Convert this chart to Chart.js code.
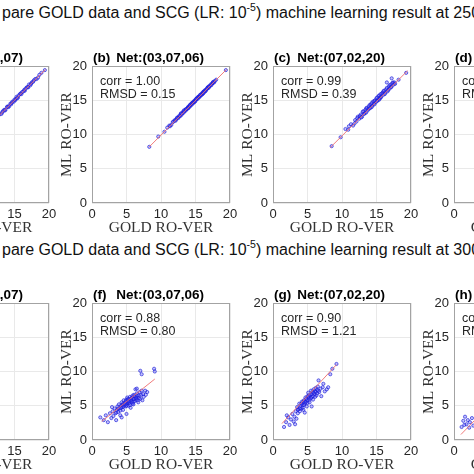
<!DOCTYPE html>
<html><head><meta charset="utf-8">
<script src="https://cdn.jsdelivr.net/npm/chart.js@4.4.1/dist/chart.umd.min.js"></script>
<style>
html,body{margin:0;padding:0;background:#fff;overflow:hidden;}
#page{position:relative;width:474px;height:474px;overflow:hidden;background:#fff;}
#page canvas{position:absolute;}
.rowTitle{position:absolute;left:2px;white-space:nowrap;font-family:"Liberation Sans",Arial,sans-serif;font-size:16px;line-height:16px;color:#111;}
.rowTitle sup{font-size:10.5px;line-height:0;vertical-align:7px;}
</style></head>
<body><div id="page"></div>
<script>
// ---------- data ----------
const tickValues = [0, 5, 10, 15, 20];
const xAxisTitle = 'GOLD RO-VER';
const yAxisTitle = 'ML RO-VER';
const rowTitleHead = 'pare GOLD data and SCG (LR: 10';
const rowTitleExp = '-5';
const rowTitleTail = ') machine learning result at ';
const rowTitleHeights = ['250', '300'];

const panelTags = ['', '(b)', '(c)', '(d)', '', '(f)', '(g)', '(h)'];
const panelNets = [',07)', 'Net:(03,07,06)', 'Net:(07,02,20)', '', ',07)', 'Net:(03,07,06)', 'Net:(07,02,20)', ''];
const corrLabels = ['', 'corr = 1.00', 'corr = 0.99', 'corr = ', '', 'corr = 0.88', 'corr = 0.90', 'corr = '];
const rmsdLabels = ['', 'RMSD = 0.15', 'RMSD = 0.39', 'RMSD = ', '', 'RMSD = 0.80', 'RMSD = 1.21', 'RMSD = '];

const pointsA = [[9.1,9.2],[10.2,10.0],[11.0,11.1],[11.6,11.5],[12.1,12.2],[12.5,12.4],[12.8,12.9],[13.1,13.0],[13.3,13.4],[13.5,13.6],[13.7,13.6],[13.9,14.0],[14.0,14.1],[14.2,14.1],[14.4,14.5],[14.5,14.4],[14.7,14.8],[14.9,14.8],[15.0,15.1],[15.2,15.2],[15.3,15.5],[15.5,15.4],[15.6,15.7],[15.8,15.9],[16.0,15.9],[16.1,16.2],[16.3,16.3],[16.5,16.4],[16.6,16.7],[16.8,16.9],[17.0,16.9],[17.1,17.3],[17.3,17.2],[17.5,17.6],[17.7,17.7],[18.0,18.1],[18.4,18.3],[18.9,19.0],[19.4,19.4],
  [13.2,13.2],[13.6,13.5],[14.1,14.0],[14.6,14.6],[15.1,15.0],[15.4,15.3],[15.9,16.0],[16.4,16.5],[16.9,16.9],[17.4,17.4],[17.8,17.9],[18.2,18.1],[18.6,18.7]];
const pointsB = [[8.3,8.2],[9.6,9.7],[10.5,10.4],[10.9,11.0],[11.2,11.3],[11.5,11.4],[11.8,11.9],[12.0,12.1],[12.2,12.2],[12.4,12.5],[12.6,12.6],[12.8,12.7],[12.9,13.0],[13.1,13.1],[13.2,13.3],[13.4,13.4],[13.5,13.6],[13.6,13.5],[13.8,13.8],[13.9,14.0],[14.0,14.0],[14.2,14.1],[14.3,14.4],[14.4,14.3],[14.5,14.6],[14.7,14.7],[14.8,14.9],[14.9,14.8],[15.0,15.1],[15.1,15.1],[15.3,15.2],[15.4,15.5],[15.5,15.5],[15.6,15.7],[15.8,15.8],[15.9,16.0],[16.0,15.9],[16.1,16.2],[16.3,16.3],[16.4,16.5],[16.5,16.4],[16.7,16.7],[16.8,16.9],[16.9,16.8],[17.1,17.1],[17.2,17.3],[17.4,17.4],[17.5,17.6],[17.7,17.6],[18.0,18.0],[19.4,19.4],
  [11.3,11.2],[11.7,11.8],[12.1,12.0],[12.3,12.4],[12.5,12.4],[12.7,12.8],[13.0,12.9],[13.3,13.2],[13.3,13.5],[13.7,13.7],[13.9,13.8],[14.1,14.2],[14.2,14.3],[14.4,14.5],[14.6,14.5],[14.6,14.7],[14.8,14.7],[15.0,14.9],[15.2,15.3],[15.3,15.4],[15.5,15.4],[15.7,15.6],[15.7,15.8],[15.9,15.8],[16.1,16.0],[16.2,16.3],[16.4,16.3],[16.6,16.6],[16.7,16.8],[16.9,17.0],[17.0,17.0],[17.3,17.2],[17.5,17.5],[17.6,17.7],[17.8,17.8],[12.9,13.1],[14.0,13.9],[15.1,15.2],[16.2,16.1],[13.6,13.7]];
const pointsC = [[8.5,8.3],[9.8,9.6],[10.5,10.8],[10.9,10.7],[11.3,11.5],[11.6,11.3],[11.9,12.1],[12.1,11.9],[12.3,12.6],[12.5,12.3],[12.7,12.9],[12.9,12.6],[13.0,13.3],[13.2,13.0],[13.4,13.6],[13.5,13.2],[13.6,13.9],[13.8,13.7],[14.0,14.3],[14.1,13.9],[14.2,14.4],[14.4,14.2],[14.5,14.8],[14.6,14.5],[14.8,15.0],[14.9,14.7],[15.0,15.3],[15.2,15.0],[15.3,15.6],[15.5,15.3],[15.6,15.9],[15.7,15.5],[15.9,16.1],[16.0,15.8],[16.1,16.4],[16.3,16.1],[16.4,16.6],[16.6,16.3],[16.8,17.0],[16.9,16.7],[17.1,17.3],[17.2,17.0],[17.4,17.6],[17.5,17.3],[17.2,18.2],[16.5,17.6],[18.2,18.0],[19.3,19.0],
  [11.0,11.2],[11.8,11.6],[12.2,12.4],[12.6,12.7],[12.8,12.5],[13.1,13.4],[13.3,13.1],[13.7,13.5],[13.9,14.1],[14.3,14.0],[14.3,14.6],[14.7,14.9],[14.7,14.4],[15.1,14.9],[15.1,15.4],[15.4,15.7],[15.6,15.4],[15.8,16.0],[16.0,16.3],[16.2,15.9],[16.5,16.8],[16.7,16.5],[16.9,17.2],[17.1,16.9],[17.3,17.5],[17.6,17.6],[17.7,17.4],[15.4,15.1],[14.0,13.8],[13.5,13.8]];
const pointsD = [];
const pointsE = [];
const pointsF = [[1.2,3.3],[1.7,2.9],[2.0,3.6],[2.3,2.6],[2.6,3.9],[2.8,3.2],[3.0,4.2],[3.1,3.5],[3.3,4.6],[3.4,3.9],[3.5,2.9],[3.6,4.4],[3.7,4.9],[3.8,4.1],[3.9,5.2],[4.0,4.6],[4.1,3.6],[4.2,5.0],[4.3,5.5],[4.4,4.8],[4.5,5.3],[4.5,4.4],[4.6,5.8],[4.7,5.1],[4.8,5.5],[4.9,4.9],[5.0,5.9],[5.0,5.3],[5.1,6.2],[5.2,5.6],[5.3,5.0],[5.3,6.0],[5.4,5.4],[5.5,6.3],[5.6,5.8],[5.6,4.7],[5.7,6.1],[5.8,5.5],[5.9,6.5],[6.0,6.0],[6.0,5.2],[6.1,6.6],[6.2,5.7],[6.3,6.3],[6.3,7.4],[6.4,5.9],[6.5,6.8],[6.6,6.2],[6.7,5.5],[6.8,6.5],[6.9,7.0],[7.0,6.0],[7.1,6.6],[7.2,7.2],[7.3,5.8],[7.4,6.7],[7.5,6.3],[7.7,7.2],[7.8,6.6],[8.0,7.0],[7.0,10.1],[7.2,9.6],[9.0,10.4],[9.1,10.0],[5.0,3.8],[4.3,3.3],[2.9,4.8],[6.5,7.5],
  [4.2,4.7],[4.4,5.1],[4.6,4.9],[4.8,5.2],[5.0,5.0],[5.1,5.5],[5.2,5.9],[5.4,5.7],[5.5,5.1],[5.7,5.6],[5.8,6.2],[6.0,5.6],[6.1,6.0],[6.2,6.4],[6.4,6.1],[6.5,6.5],[6.6,5.8],[6.8,6.1],[5.9,5.3],[5.3,5.6],[4.9,5.7],[4.1,4.3],[3.8,4.6],[3.5,4.0]];
const pointsG = [[1.6,1.9],[1.9,2.6],[2.2,3.3],[2.4,2.2],[2.6,3.0],[2.8,3.8],[3.0,2.7],[3.1,3.4],[3.3,4.2],[3.4,3.1],[3.5,4.8],[3.6,3.9],[3.7,4.5],[3.8,5.3],[3.9,4.2],[4.0,5.0],[4.1,4.6],[4.2,5.6],[4.3,5.1],[4.4,4.4],[4.5,5.8],[4.6,5.3],[4.7,6.2],[4.8,5.6],[4.9,4.9],[5.0,6.4],[5.0,5.8],[5.1,6.9],[5.2,6.1],[5.3,5.5],[5.4,6.6],[5.5,7.2],[5.6,6.3],[5.7,7.0],[5.8,5.9],[5.9,7.4],[6.0,6.7],[6.1,7.1],[6.2,7.6],[6.3,6.5],[6.4,7.3],[6.5,7.8],[6.6,8.7],[6.7,7.0],[6.9,7.5],[7.0,6.4],[7.2,7.7],[7.3,8.2],[7.5,7.1],[7.8,7.4],[8.0,7.7],[8.3,9.6],[8.6,10.4],[9.2,11.1],[3.2,2.3],[4.6,4.0],[5.6,4.9],[2.0,3.6],
  [3.9,4.6],[4.1,5.3],[4.3,4.7],[4.5,5.1],[4.7,5.5],[4.8,6.0],[5.0,5.4],[5.2,6.5],[5.3,5.9],[5.5,6.1],[5.6,6.7],[5.8,6.4],[5.9,6.9],[6.1,6.3],[6.2,7.0],[6.4,6.8],[6.6,7.2],[4.4,5.6],[3.6,4.4],[5.1,6.3]];
const pointsH = [[1.1,1.9],[1.35,2.8],[1.6,3.4],[1.8,2.3],[2.0,2.9],[2.3,2.6],[2.6,3.2],[2.8,2.1],[2.2,1.8],[1.5,2.2]];

const fitA = [[8.3,8.3],[19.5,19.5]];
const fitB = [[8.3,8.2],[19.5,19.5]];
const fitC = [[8.3,8.1],[19.5,19.3]];
const fitD = [];
const fitE = [];
const fitF = [[1.4,2.7],[9.1,8.9]];
const fitG = [[1.3,2.4],[9.2,11.0]];
const fitH = [[1.0,0.8],[4.0,3.9]];

const panelPoints = [pointsA, pointsB, pointsC, pointsD, pointsE, pointsF, pointsG, pointsH];
const panelFits = [fitA, fitB, fitC, fitD, fitE, fitF, fitG, fitH];

// ---------- layout / style ----------
const panelLeft = [-89, 92, 273, 454];
const rowTop = [66, 303];
const rowTitleTop = [4.8, 241.8];
const PLOT_W = 138, PLOT_H = 137, AX_W = 45, AX_H = 40, PAD_T = 30, PAD_R = 12;
const SANS = '"Liberation Sans", Arial, sans-serif';
const SERIF = '"Liberation Serif", "Times New Roman", serif';
const TEXT = '#262626';

const page = document.getElementById('page');

rowTitleHeights.forEach((h, r) => {
  const d = document.createElement('div');
  d.className = 'rowTitle';
  d.style.top = rowTitleTop[r] + 'px';
  d.innerHTML = rowTitleHead + '<sup>' + rowTitleExp + '</sup>' + rowTitleTail + h;
  page.appendChild(d);
});

const panelPlugin = {
  id: 'panelDecor',
  beforeDatasetsDraw(chart) {
    const {ctx, chartArea: a} = chart;
    ctx.save();
    ctx.strokeStyle = '#a3a3a3';
    ctx.lineWidth = 1;
    ctx.strokeRect(Math.round(a.left) + 0.5, Math.round(a.top) + 0.5, Math.round(a.right - a.left) - 1, Math.round(a.bottom - a.top) - 1);
    ctx.restore();
  },
  afterDraw(chart) {
    const i = chart.options.plugins.panelDecor.index;
    const {ctx, chartArea: a} = chart;
    ctx.save();
    ctx.fillStyle = '#000';
    ctx.textBaseline = 'alphabetic';
    ctx.font = 'bold 13.5px ' + SANS;
    ctx.textAlign = 'left';
    if (panelTags[i]) ctx.fillText(panelTags[i], a.left + 1, a.top - 4.5);
    ctx.textAlign = 'right';
    if (panelNets[i]) ctx.fillText(panelNets[i], a.left + 112, a.top - 4.5);
    ctx.textAlign = 'left';
    ctx.fillStyle = TEXT;
    ctx.font = '12.5px ' + SANS;
    if (corrLabels[i]) ctx.fillText(corrLabels[i], a.left + 8, a.top + 19);
    if (rmsdLabels[i]) ctx.fillText(rmsdLabels[i], a.left + 8, a.top + 32);
    ctx.restore();
  }
};

function axis(titleText, isY) {
  return {
    type: 'linear', min: 0, max: 20,
    afterBuildTicks: s => { s.ticks = tickValues.map(v => ({value: v})); },
    afterFit: s => { if (isY) s.width = AX_W; else s.height = AX_H; },
    grid: {color: '#e9e9e9', lineWidth: 1, drawTicks: false},
    border: {display: false},
    ticks: {color: TEXT, font: {family: SANS, size: 13}, padding: isY ? 5 : 4, maxRotation: 0, autoSkip: false},
    title: {display: true, text: titleText, color: '#333', font: {family: SERIF, size: 15.5},
            padding: isY ? {top: 11, bottom: 0} : {top: 0, bottom: 6}}
  };
}

for (let i = 0; i < 8; i++) {
  const col = i % 4, row = Math.floor(i / 4);
  const L = panelLeft[col], T = rowTop[row];
  const W = AX_W + PLOT_W + PAD_R, H = PAD_T + PLOT_H + AX_H;
  const cv = document.createElement('canvas');
  cv.width = W; cv.height = H;
  cv.style.left = (L - AX_W) + 'px'; cv.style.top = (T - PAD_T) + 'px';
  cv.style.width = W + 'px'; cv.style.height = H + 'px';
  page.appendChild(cv);
  new Chart(cv, {
    type: 'scatter',
    data: {
      datasets: [
        {data: panelFits[i].map(([x, y]) => ({x, y})), showLine: true, borderColor: 'rgba(238,110,110,0.9)', borderWidth: 1, pointRadius: 0},
        {data: panelPoints[i].map(([x, y]) => ({x, y})), pointRadius: 1.6, pointStyle: 'circle',
         borderColor: 'rgba(25,25,215,0.8)', backgroundColor: 'rgba(80,80,245,0.35)', borderWidth: 0.8}
      ]
    },
    options: {
      responsive: false, animation: false, devicePixelRatio: 1,
      layout: {padding: {top: PAD_T, right: PAD_R, left: 0, bottom: 0}, autoPadding: false},
      plugins: {legend: {display: false}, tooltip: {enabled: false}, title: {display: false}, panelDecor: {index: i}},
      scales: {x: axis(xAxisTitle, false), y: axis(yAxisTitle, true)}
    },
    plugins: [panelPlugin]
  });
}
</script>
</body></html>
